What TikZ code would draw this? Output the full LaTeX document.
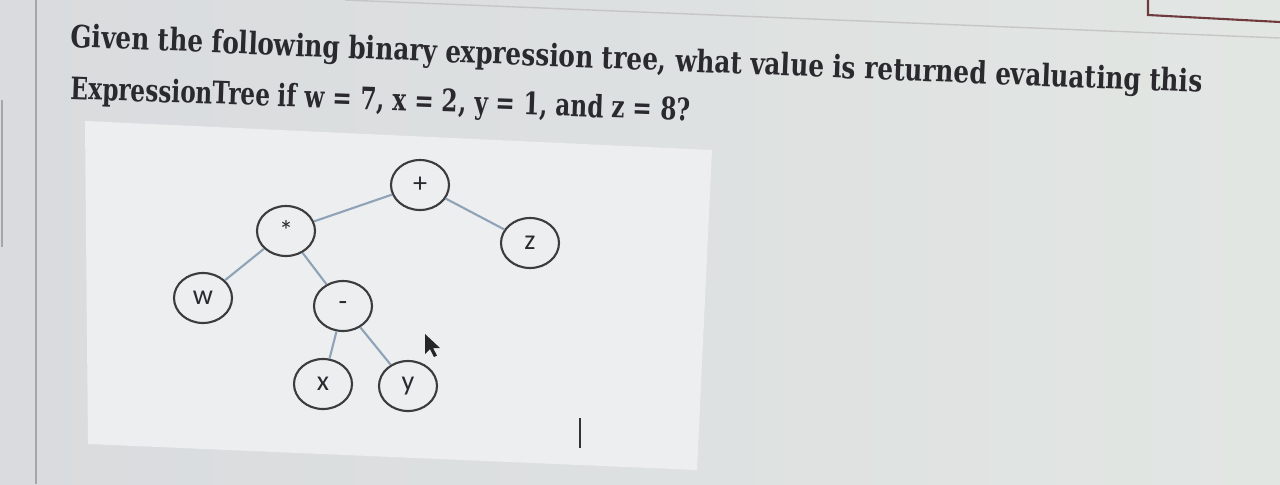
\documentclass[tikz,border=0pt]{standalone}
\usepackage{fontspec}
\setmainfont{Carlito}
\newfontfamily\questionfont[FakeStretch=0.8]{DejaVu Serif}
\newfontfamily\questionnarrow[FakeStretch=0.75]{DejaVu Serif}
\usetikzlibrary{shapes.geometric}
\definecolor{screen}{HTML}{D9DBDE}
\definecolor{screenright}{HTML}{E2E6E3}
\definecolor{panel}{HTML}{EDEEEF}
\definecolor{nodeline}{HTML}{3C3C3E}
\definecolor{edgecol}{HTML}{8FA3B8}
\definecolor{textcol}{HTML}{2A2A2E}
\definecolor{boxline}{HTML}{6E3A3C}
\tikzset{
  treenode/.style={
    ellipse,
    draw=nodeline,
    line width=0.6pt,
    fill=panel,
    minimum width=5.8mm,
    minimum height=5mm,
    inner sep=0pt,
    text=textcol,
    font=\fontsize{8}{9}\selectfont},
  branch/.style={draw=edgecol, line width=0.6pt},
  question/.style={
    anchor=base west,
    inner sep=0pt,
    text=textcol,
    font=\questionfont\bfseries\fontsize{8.8}{10}\selectfont}
  }
\begin{document}
\begin{tikzpicture}[x=0.1mm, y=-0.1mm]
		% screen and panel
		\shade [left color=screen, right color=screenright] (0,0) rectangle (1280,484);
		\useasboundingbox (0,0) rectangle (1280,484);
		\draw [color=gray!70, line width=0.8pt] (36,0) -- (36,484);
		\draw [color=gray!70, line width=0.5pt] (2,100) -- (2,247);
		\draw [color=gray!45, line width=0.4pt] (345,0) -- (1280,38);
		\draw [color=boxline, line width=0.6pt] (1148,0) -- (1148,15) -- (1280,22);
		\fill [panel] (85,121) -- (712,150) -- (697,470) -- (88,444) -- cycle;
		% question
		\node [question, rotate=-2.3] (line1) at (70,47) {Given the following binary expression tree, what value is returned evaluating this};
		\node [question, rotate=-2.0, font=\questionnarrow\bfseries\fontsize{8.8}{10}\selectfont] (line2) at (70,99) {ExpressionTree if w = 7, x = 2, y = 1, and z = 8?};
		% tree
		\node [treenode] (plus) at (420,185) {+};
		\node [treenode] (times) at (286,231) {*};
		\node [treenode] (zz) at (530,243) {z};
		\node [treenode] (ww) at (203,298) {w};
		\node [treenode] (minus) at (343,306) {-};
		\node [treenode] (xx) at (323,384) {x};
		\node [treenode] (yy) at (408,386) {y};
		\draw [branch] (plus) to (times);
		\draw [branch] (plus) to (zz);
		\draw [branch] (times) to (ww);
		\draw [branch] (times) to (minus);
		\draw [branch] (minus) to (xx);
		\draw [branch] (minus) to (yy);
		% pointer and caret
		\coordinate (pointer) at (425,334);
		\fill [black!85] (pointer) -- ++(0,20) -- ++(5,-5) -- ++(4,8) -- ++(3,-1.5) -- ++(-4,-7.5) -- ++(7,0) -- cycle;
		\coordinate (caretTop) at (580,418);
		\coordinate (caretBot) at (580,448);
		\draw [black!80, line width=0.6pt] (caretTop) -- (caretBot);
	\end{tikzpicture}
\end{document}
